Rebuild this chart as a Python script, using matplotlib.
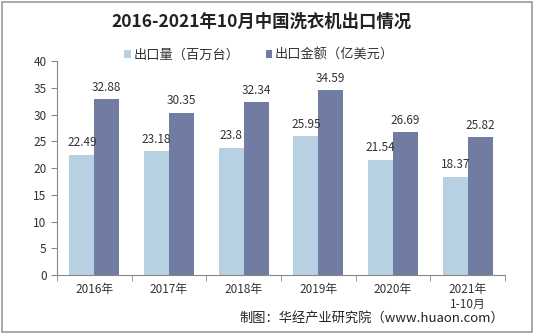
import matplotlib
matplotlib.use("Agg")
import matplotlib.pyplot as plt
import numpy as np

plt.rcParams['font.family'] = ['Noto Sans CJK SC', 'DejaVu Sans']

categories = ["2016年", "2017年", "2018年", "2019年", "2020年", "2021年\n1-10月"]
volume = [22.49, 23.18, 23.8, 25.95, 21.54, 18.37]
value = [32.88, 30.35, 32.34, 34.59, 26.69, 25.82]
volume_labels = ["22.49", "23.18", "23.8", "25.95", "21.54", "18.37"]
value_labels = ["32.88", "30.35", "32.34", "34.59", "26.69", "25.82"]
series_names = ["出口量（百万台）", "出口金额（亿美元）"]
c1, c2 = "#b7d0e2", "#717ca3"

fig = plt.figure(figsize=(5.34, 3.33), dpi=100)
ax = fig.add_axes([57/534, 1-275/333, 448/534, 214/333])

x = np.arange(len(categories))
w = 0.335
b1 = ax.bar(x - w/2, volume, w, color=c1, label=series_names[0])
b2 = ax.bar(x + w/2, value, w, color=c2, label=series_names[1])
for rect, lab in zip(b1, volume_labels):
    ax.text(rect.get_x() + rect.get_width()/2, rect.get_height() + 1.0, lab,
            ha='center', va='bottom', fontsize=8.5, color='#333333')
for rect, lab in zip(b2, value_labels):
    ax.text(rect.get_x() + rect.get_width()/2, rect.get_height() + 1.0, lab,
            ha='center', va='bottom', fontsize=8.5, color='#333333')

ax.set_xlim(-0.5, len(categories) - 0.5)
ax.set_ylim(0, 40)
ax.set_yticks(range(0, 41, 5))
ax.tick_params(axis='y', labelsize=8.5, length=4, color='#888888', labelcolor='#333333')
ax.set_xticks(x)
ax.set_xticklabels(categories, fontsize=8.5, color='#333333')
ax.tick_params(axis='x', length=0, pad=6)
ax.set_xticks(np.arange(-0.5, len(categories), 1), minor=True)
ax.tick_params(axis='x', which='minor', length=4, color='#888888')
for s in ['top', 'right']:
    ax.spines[s].set_visible(False)
ax.spines['left'].set_color('#888888')
ax.spines['bottom'].set_color('#888888')

fig.text(0.49, 1-22/333, "2016-2021年10月中国洗衣机出口情况", ha='center', va='center',
         fontsize=12.5, fontweight='bold', color='#222222')
leg = fig.legend(loc='center', bbox_to_anchor=(0.485, 1-55/333), ncol=2, frameon=False,
                 fontsize=9.5, handlelength=0.5, handleheight=0.5, handletextpad=0.2,
                 columnspacing=2.0)
for t in leg.get_texts():
    t.set_color('#333333')

fig.text(0.945, 1-318/333, "制图：华经产业研究院（www.huaon.com）", ha='right', va='center',
         fontsize=9.5, color='#222222')

border = plt.Rectangle((0.004, 0.004), 0.992, 0.99, transform=fig.transFigure,
                       fill=False, edgecolor='#999999', linewidth=1.2)
fig.patches.append(border)

fig.savefig("out.png", dpi=100)
